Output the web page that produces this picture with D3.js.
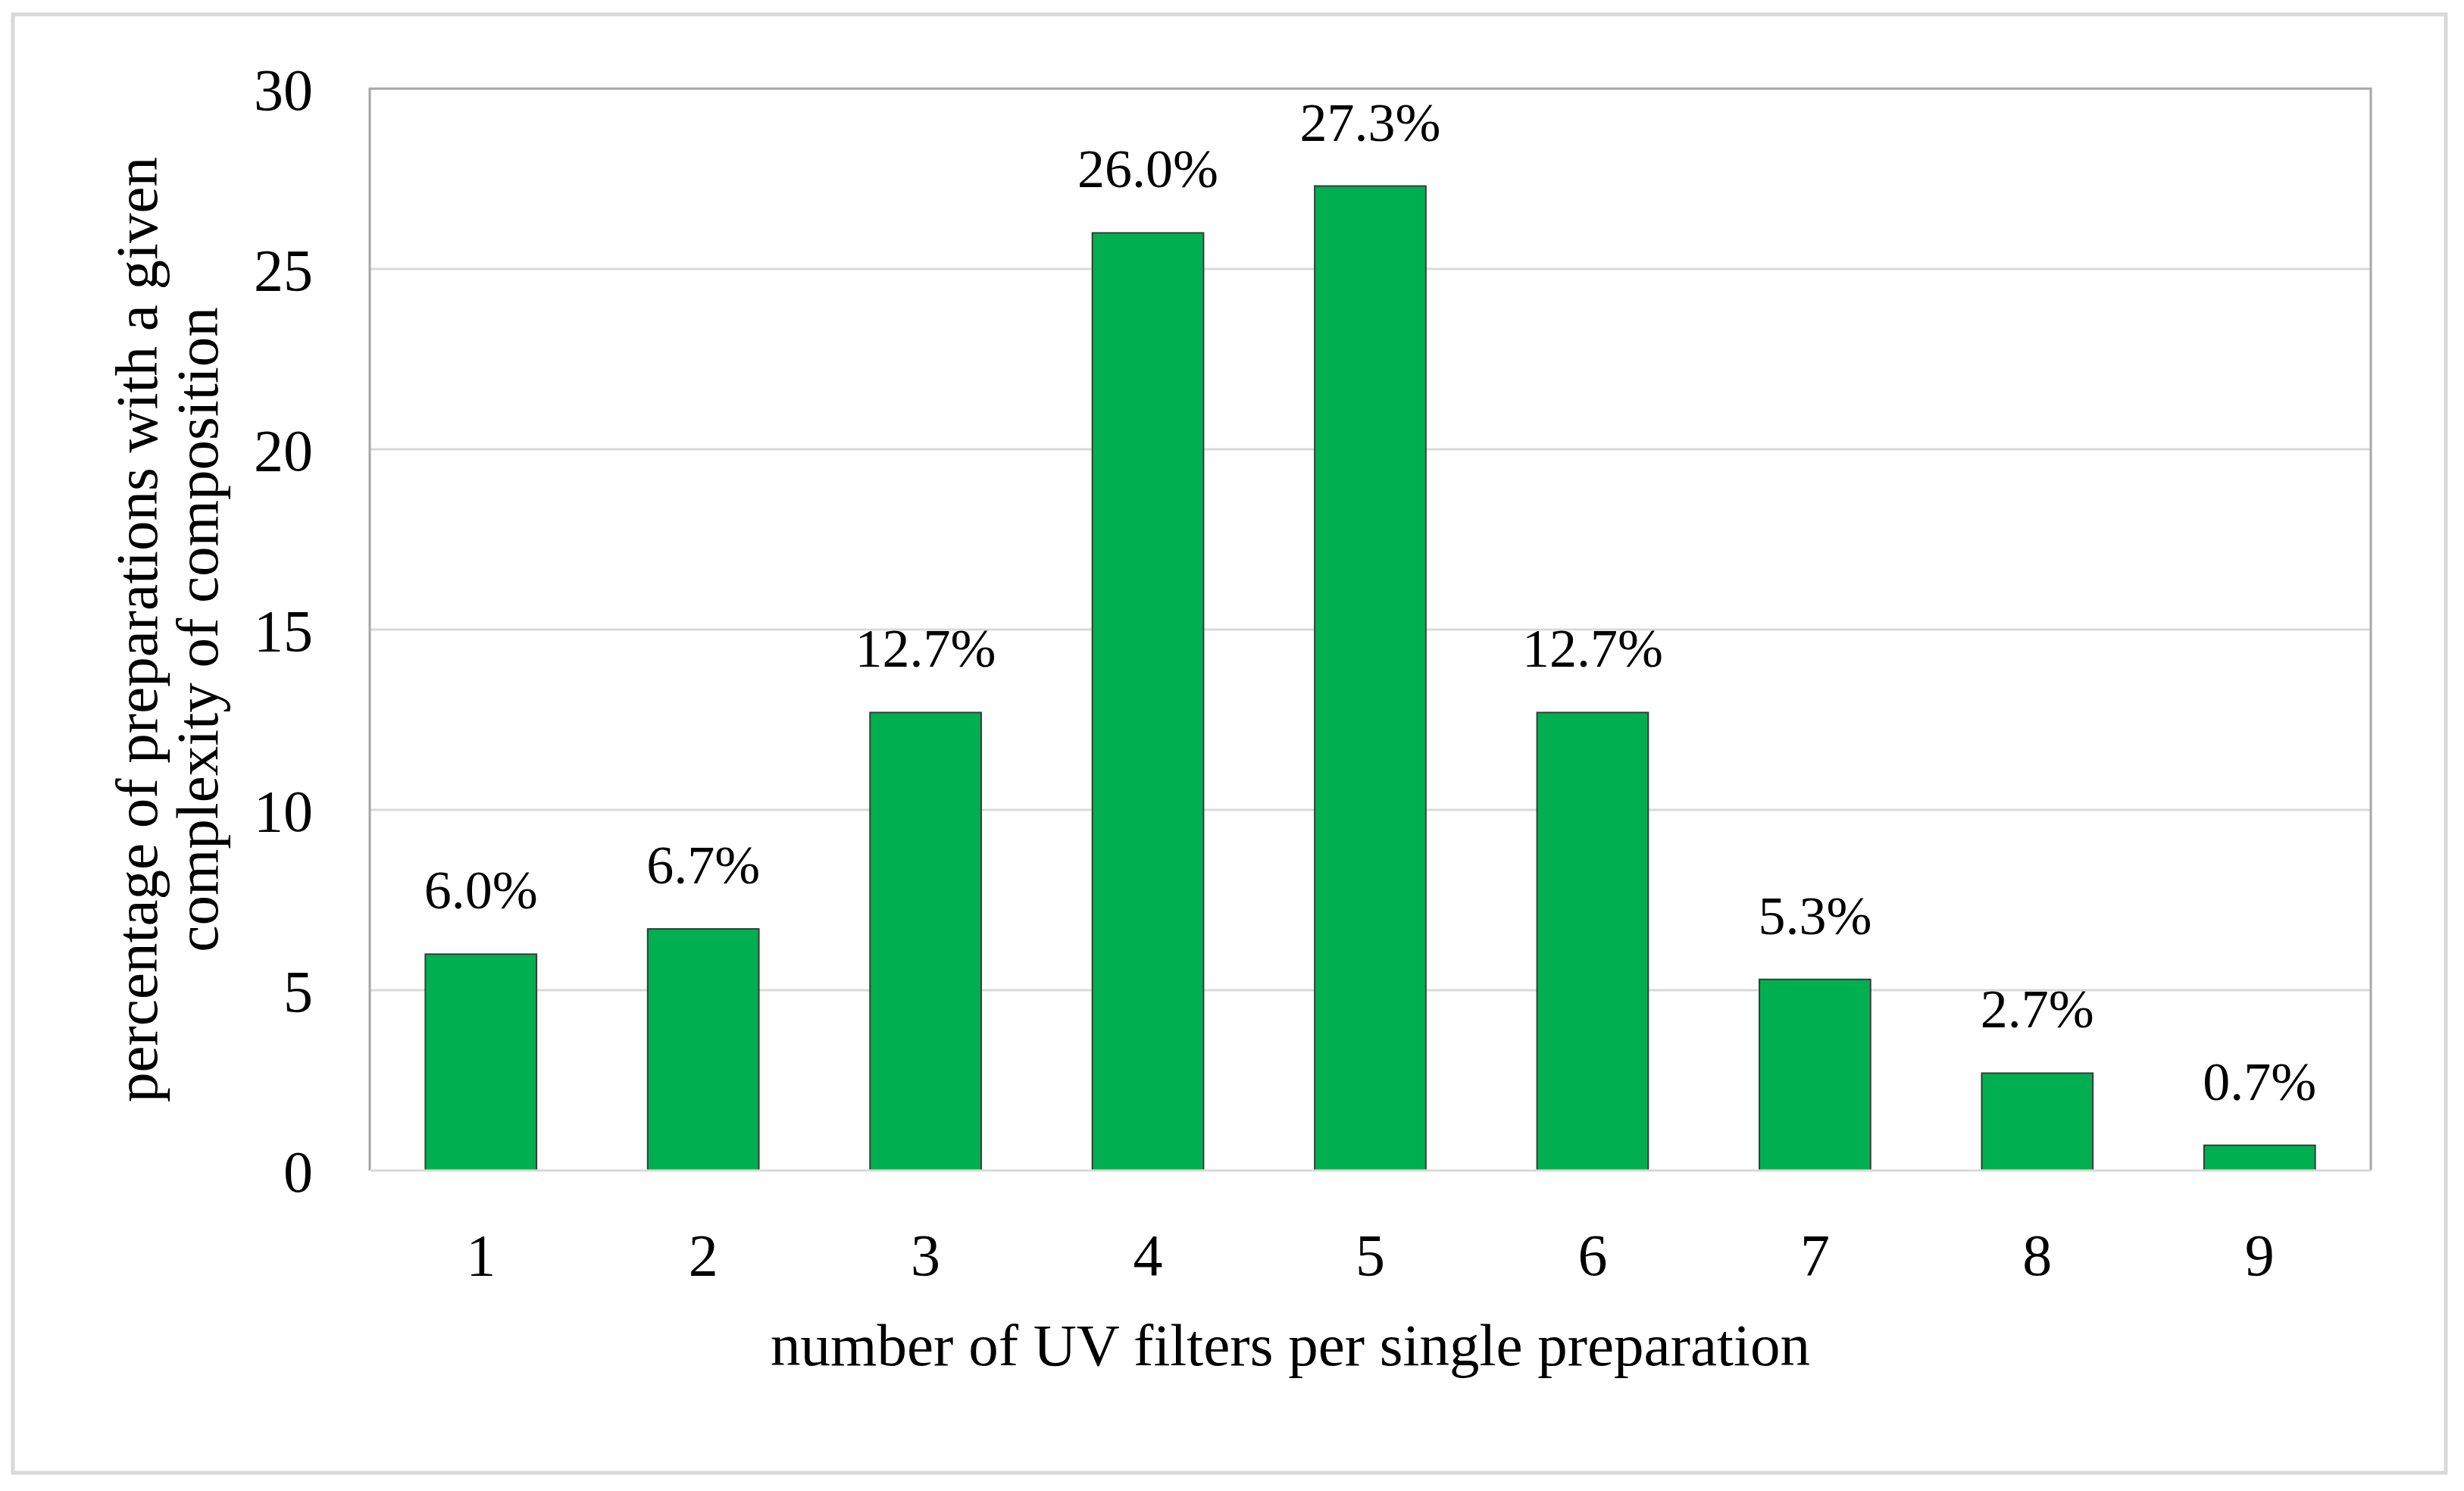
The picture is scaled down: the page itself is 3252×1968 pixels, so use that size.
<!DOCTYPE html>
<html>
<head>
<meta charset="utf-8">
<script src="https://cdn.jsdelivr.net/npm/d3@7"></script>
<style>
  body { margin: 0; background: #fff; }
  text { font-family: "Liberation Serif", "Times New Roman", serif; fill: #000; }
</style>
</head>
<body>
<div id="chart"></div>
<script>
// data
const categories = ['1', '2', '3', '4', '5', '6', '7', '8', '9'];
const values = [6.0, 6.7, 12.7, 26.0, 27.3, 12.7, 5.3, 2.7, 0.7];
const yTicks = [0, 5, 10, 15, 20, 25, 30];
const xTitle = 'number of UV filters per single preparation';
const yTitleLines = ['percentage of preparations with a given', 'complexity of composition'];

const width = 3252;
const height = 1968;
const margin = { top: 117, right: 123, bottom: 423, left: 488 };
const plotW = width - margin.left - margin.right;
const plotH = height - margin.top - margin.bottom;

const svg = d3.select('#chart')
    .append('svg')
    .attr('width', width)
    .attr('height', height);

// outer frame
svg.append('rect')
    .attr('x', 17).attr('y', 19)
    .attr('width', 3211).attr('height', 1925)
    .attr('fill', 'none')
    .attr('stroke', '#d9d9d9')
    .attr('stroke-width', 5);

const g = svg.append('g')
    .attr('transform', `translate(${margin.left},${margin.top})`);

const x = d3.scaleBand()
    .domain(categories)
    .range([0, plotW])
    .paddingInner(0.5)
    .paddingOuter(0.25);

const y = d3.scaleLinear()
    .domain([0, 30])
    .range([plotH, 0]);

// gridlines
g.append('g')
    .selectAll('line')
    .data(yTicks.filter(d => d > 0 && d < 30))
    .enter()
    .append('line')
    .attr('x1', 0).attr('x2', plotW)
    .attr('y1', d => y(d)).attr('y2', d => y(d))
    .attr('stroke', '#d9d9d9')
    .attr('stroke-width', 3);

// plot area border (top / sides darker, bottom axis light)
g.append('path')
    .attr('d', `M0,${plotH}V0H${plotW}V${plotH}`)
    .attr('fill', 'none')
    .attr('stroke', '#a6a6a6')
    .attr('stroke-width', 3);

// bars
g.append('g')
    .selectAll('rect')
    .data(values)
    .enter()
    .append('rect')
    .attr('x', (d, i) => x(categories[i]))
    .attr('y', d => y(d))
    .attr('width', x.bandwidth())
    .attr('height', d => plotH - y(d))
    .attr('fill', '#00b050')
    .attr('stroke', '#3a3a3a')
    .attr('stroke-width', 2);

g.append('line')
    .attr('x1', 0).attr('x2', plotW)
    .attr('y1', plotH).attr('y2', plotH)
    .attr('stroke', '#d9d9d9')
    .attr('stroke-width', 3);

// value labels
g.append('g')
    .selectAll('text')
    .data(values)
    .enter()
    .append('text')
    .attr('x', (d, i) => x(categories[i]) + x.bandwidth() / 2)
    .attr('y', d => y(d) - 60)
    .attr('text-anchor', 'middle')
    .style('font-size', '72px')
    .text(d => d.toFixed(1) + '%');

// y axis
const yAxis = g.append('g')
    .call(d3.axisLeft(y).tickValues(yTicks).tickSize(0).tickPadding(75));
yAxis.select('.domain').remove();
yAxis.selectAll('text')
    .style('font-size', '78px')
    .attr('dy', '0.35em');

// x axis
const xAxis = g.append('g')
    .attr('transform', `translate(0,${plotH})`)
    .call(d3.axisBottom(x).tickSize(0).tickPadding(138));
xAxis.select('.domain').remove();
xAxis.selectAll('text')
    .style('font-size', '78px')
    .attr('dy', '0');

// axis titles
svg.append('text')
    .attr('x', 1703)
    .attr('y', 1802)
    .attr('text-anchor', 'middle')
    .style('font-size', '79px')
    .text(xTitle);

const yTitle = svg.append('text')
    .attr('transform', `translate(0,${margin.top + plotH / 2}) rotate(-90)`)
    .attr('text-anchor', 'middle')
    .style('font-size', '79px');
yTitle.selectAll('tspan')
    .data(yTitleLines)
    .enter()
    .append('tspan')
    .attr('x', 0)
    .attr('y', (d, i) => 207 + i * 80)
    .text(d => d);
</script>
</body>
</html>
